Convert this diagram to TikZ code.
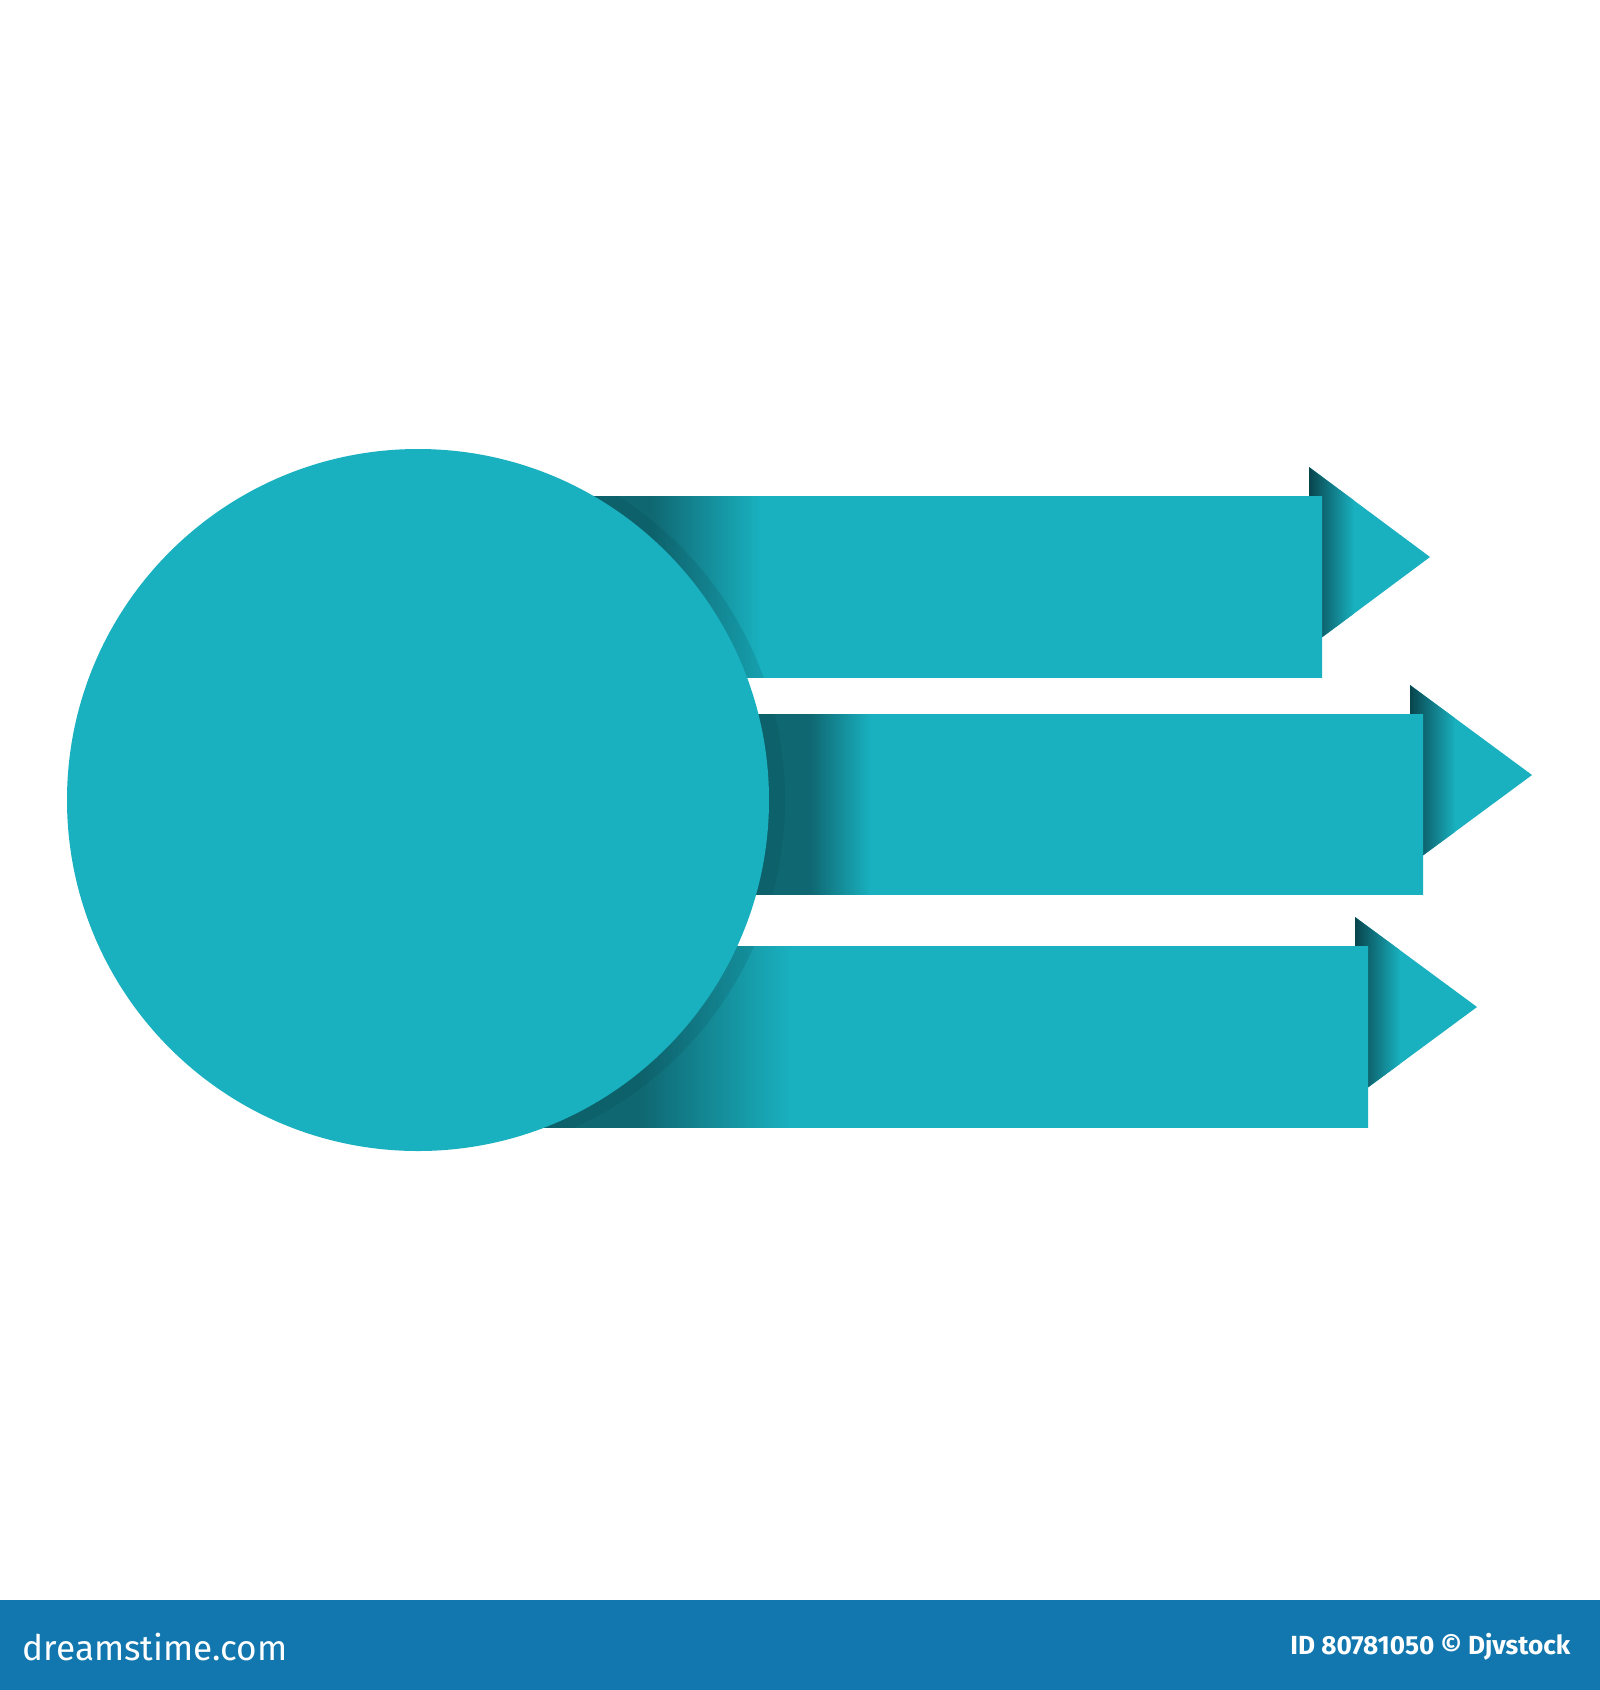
\documentclass[tikz,border=0pt]{standalone}
\usepackage{fontspec}
\setmainfont{Fira Sans}
\definecolor{tealmain}{HTML}{19B0BF}
\definecolor{tealdk}{HTML}{0F6771}
\definecolor{tealdkr}{HTML}{084048}
\definecolor{footerblue}{HTML}{1177AE}
% bar shadings: path x-extent maps to 25bp..75bp
\pgfdeclarehorizontalshading{barshadeA}{100bp}{color(0bp)=(tealdk); color(37.83bp)=(tealdk); color(43.92bp)=(tealmain); color(100bp)=(tealmain)}
\pgfdeclarehorizontalshading{barshadeB}{100bp}{color(0bp)=(tealdk); color(44.50bp)=(tealdk); color(47.49bp)=(tealmain); color(100bp)=(tealmain)}
\pgfdeclarehorizontalshading{barshadeC}{100bp}{color(0bp)=(tealdk); color(36.68bp)=(tealdk); color(44.58bp)=(tealmain); color(100bp)=(tealmain)}
\begin{document}
\begin{tikzpicture}[x=0.01cm,y=-0.01cm]
\tikzset{
  footertext/.style={text=white, inner sep=0pt},
}
\useasboundingbox (0,0) rectangle (1600,1690);
\fill[white] (0,0) rectangle (1600,1690);
% arrows: bar top, bar bottom, bar right, tri back x, tri top, apex x, apex y, shading
\foreach \bt/\bb/\br/\tb/\tt/\ax/\ay/\sh in {
  496/677/1322/1309/467/1430/557/barshadeA,
  714/894/1423/1410/685/1532/775/barshadeB,
  946/1127/1368/1355/917/1477/1007/barshadeC}{
  % arrow head
  \begin{scope}
    \clip (\tb,\tt) -- (\ax,\ay) -- (\tb,2*\ay-\tt) -- cycle;
    \fill[tealmain] (\tb,\tt-5) rectangle (\ax+5,2*\ay-\tt+5);
    \shade[left color=tealdkr, right color=tealmain] (\tb-2,\tt-5) rectangle (\br+32,2*\ay-\tt+5);
  \end{scope}
  % bar with shadow from circle
  \shade[shading=\sh] (418,\bt) rectangle (\br,\bb);
  \begin{scope}
    \clip (418,\bt) rectangle (\br,\bb);
    \fill[tealdkr, opacity=0.15] (425,800) circle (360);
  \end{scope}
}
% main circle
\fill[tealmain] (418,800) circle (351);
% footer
\fill[footerblue] (0,1600) rectangle (1600,1690);
\node[footertext, anchor=base west, font=\fontsize{10}{12}\selectfont] (site) at (22,1660) {dreamstime.com};
\node[footertext, anchor=base east, font=\bfseries\fontsize{7.45}{9}\selectfont] (credit) at (1571,1654) {ID 80781050 © Djvstock};
\end{tikzpicture}
\end{document}
